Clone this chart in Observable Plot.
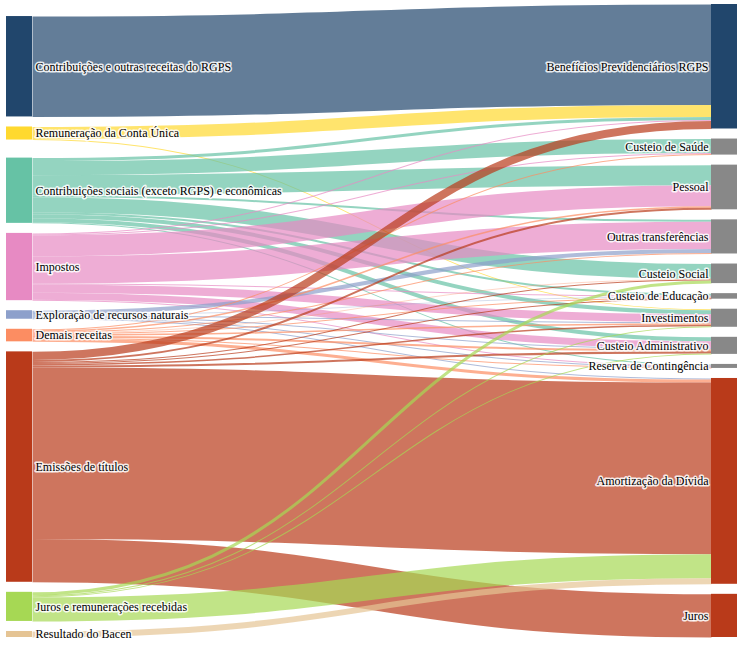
<!DOCTYPE html>
<html>
<head>
<meta charset="utf-8">
<script src="https://cdn.jsdelivr.net/npm/d3@7"></script>
<script src="https://cdn.jsdelivr.net/npm/@observablehq/plot@0.6"></script>
<style>
  html, body { margin: 0; padding: 0; background: #fff; }
  #chart svg { display: block; }
</style>
</head>
<body>
<div id="chart"></div>
<script>
// Receitas (origem) e despesas (destino) do orçamento federal
const sources = [
  "Contribuições e outras receitas do RGPS",
  "Remuneração da Conta Única",
  "Contribuições sociais (exceto RGPS) e econômicas",
  "Impostos",
  "Exploração de recursos naturais",
  "Demais receitas",
  "Emissões de títulos",
  "Juros e remunerações recebidas",
  "Resultado do Bacen"
];
const targets = [
  "Benefícios Previdenciários RGPS",
  "Custeio de Saúde",
  "Pessoal",
  "Outras transferências",
  "Custeio Social",
  "Custeio de Educação",
  "Investimentos",
  "Custeio Administrativo",
  "Reserva de Contingência",
  "Amortização da Dívida",
  "Juros"
];
const sourceColors = ["#21466c", "#ffd92f", "#66c2a5", "#e78ac3", "#8da0cb", "#fc8d62", "#b93a1a", "#a6d854", "#e5c494"];
const targetColors = ["#21466c", "#888888", "#888888", "#888888", "#888888", "#888888", "#888888", "#888888", "#888888", "#b93a1a", "#b93a1a"];

// Fluxos: uma linha por receita, uma coluna por despesa (mesma ordem de `targets`)
const flows = [
  [100, 0,  0,   0,  0,   0,   0,   0,  0,   0,  0],
  [12,  0,  0,   0,  0,   0,   1,   0,  0,   0,  0],
  [3,  14, 20,   2, 15,   2,   4,   4,  1,   0,  0],
  [1,   1, 21,  27,  0,   1,   8,   7,  1,   0,  0],
  [0,   0,  0,   4,  0, 0.5,   1,   1,  1,   1,  0],
  [0,   1, 1.5,  1, 0.5,  1, 1.5,   2,  1,   3,  0],
  [8,   0,  2,   0,  1,   1, 1.5,   2,  0, 171, 43],
  [0,   0,  0,   0,  3,   0,   1,   1,  0,  24,  0],
  [0,   0,  0,   0,  0,   0,   0,   0,  0,   6,  0]
];

// ---- Layout de Sankey em duas colunas (unidades de valor) ----
const pad = 10;
const targetTotals = targets.map((_, j) => d3.sum(flows, row => row[j]));
const sourceTotals = flows.map(row => d3.sum(row));
const span = d3.sum(targetTotals) + pad * (targets.length - 1);

// coluna da direita: empilhada de cima para baixo
let acc = 0;
const rightNodes = targets.map((name, j) => {
  const n = {name, side: "right", y0: acc, y1: acc + targetTotals[j]};
  acc = n.y1 + pad;
  return n;
});

// coluna da esquerda: centro ideal = média ponderada dos destinos, depois resolve colisões
const leftNodes = sources.map((name, i) => {
  const c = d3.sum(flows[i], (v, j) => v * (rightNodes[j].y0 + rightNodes[j].y1) / 2) / sourceTotals[i];
  return {name, side: "left", y0: c - sourceTotals[i] / 2, y1: c + sourceTotals[i] / 2};
});
let y = 0;
for (const n of leftNodes) {
  const dy = y - n.y0;
  if (dy > 0) { n.y0 += dy; n.y1 += dy; }
  y = n.y1 + pad;
}
{
  const last = leftNodes[leftNodes.length - 1];
  const over = last.y1 - span;
  if (over > 0) {
    last.y0 -= over; last.y1 -= over;
    for (let i = leftNodes.length - 2; i >= 0; --i) {
      const n = leftNodes[i], next = leftNodes[i + 1];
      const d = n.y1 + pad - next.y0;
      if (d > 0) { n.y0 -= d; n.y1 -= d; }
    }
  }
}

// posições das ligações nas duas extremidades
const links = [];
const srcOffset = leftNodes.map(n => n.y0);
const tgtOffset = rightNodes.map(n => n.y0);
flows.forEach((row, i) => row.forEach((v, j) => {
  if (v > 0) links.push({source: sources[i], target: targets[j], value: v, i, j});
}));
for (const l of links) { l.ys = srcOffset[l.i] + l.value / 2; srcOffset[l.i] += l.value; }
for (let j = 0; j < targets.length; ++j) {
  for (const l of links.filter(l => l.j === j)) { l.yt = tgtOffset[j] + l.value / 2; tgtOffset[j] += l.value; }
}

const nodes = [...leftNodes, ...rightNodes];
const nw = 26 / 731;
const yOpts = {domain: [0, span], range: [4, 637]};
const yScale = Plot.scale({y: yOpts});
const widthOf = v => yScale.apply(v) - yScale.apply(0);

const textStyle = {
  fontSize: 12,
  fontFamily: "'Liberation Serif', 'Times New Roman', serif",
  fill: "#000",
  stroke: "white",
  strokeWidth: 3,
  strokeOpacity: 0.85
};

const chart = Plot.plot({
  width: 737,
  height: 648,
  margin: 0,
  style: {background: "white"},
  x: {domain: [0, 1], range: [6, 737], axis: null},
  y: {...yOpts, axis: null},
  color: {domain: [...sources, ...targets], range: [...sourceColors, ...targetColors]},
  marks: [
    Plot.link(links, {
      x1: nw, x2: 1 - nw,
      y1: "ys", y2: "yt",
      curve: "bump-x",
      stroke: "source",
      strokeWidth: d => widthOf(d.value),
      strokeOpacity: 0.7
    }),
    Plot.rect(nodes, {
      x1: d => d.side === "left" ? 0 : 1 - nw,
      x2: d => d.side === "left" ? nw : 1,
      y1: "y0", y2: "y1",
      fill: "name"
    }),
    Plot.text(leftNodes, {
      x: nw, y: d => (d.y0 + d.y1) / 2, text: "name",
      textAnchor: "start", dx: 3, ...textStyle
    }),
    Plot.text(rightNodes, {
      x: 1 - nw, y: d => (d.y0 + d.y1) / 2, text: "name",
      textAnchor: "end", dx: -3, ...textStyle
    })
  ]
});
document.getElementById("chart").append(chart);
</script>
</body>
</html>
